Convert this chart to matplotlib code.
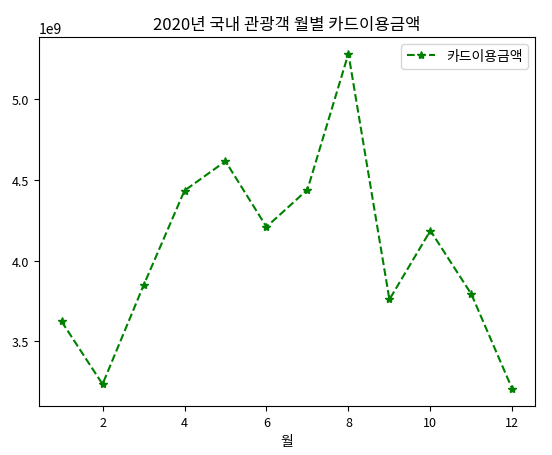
import matplotlib
matplotlib.use("Agg")
import matplotlib.pyplot as plt

plt.rcParams['font.family'] = ['Noto Sans CJK KR', 'DejaVu Sans']
plt.rcParams['axes.unicode_minus'] = False

# 월별 카드이용금액
months = [1, 2, 3, 4, 5, 6, 7, 8, 9, 10, 11, 12]
card_amount = [3.623e9, 3.234e9, 3.846e9, 4.434e9, 4.616e9, 4.209e9,
               4.440e9, 5.283e9, 3.759e9, 4.186e9, 3.792e9, 3.203e9]

fig = plt.figure(figsize=(5.52, 4.56), dpi=100)
ax = fig.add_axes([0.0707, 0.1075, 0.8983, 0.8095])

ax.plot(months, card_amount, color='green', linestyle='--', marker='*',
        label='카드이용금액')

ax.set_title('2020년 국내 관광객 월별 카드이용금액', fontsize=12)
ax.set_xlabel('월', fontsize=10)
ax.tick_params(labelsize=9)
ax.legend(loc='upper right', fontsize=10)

fig.savefig('out.png', dpi=100)
